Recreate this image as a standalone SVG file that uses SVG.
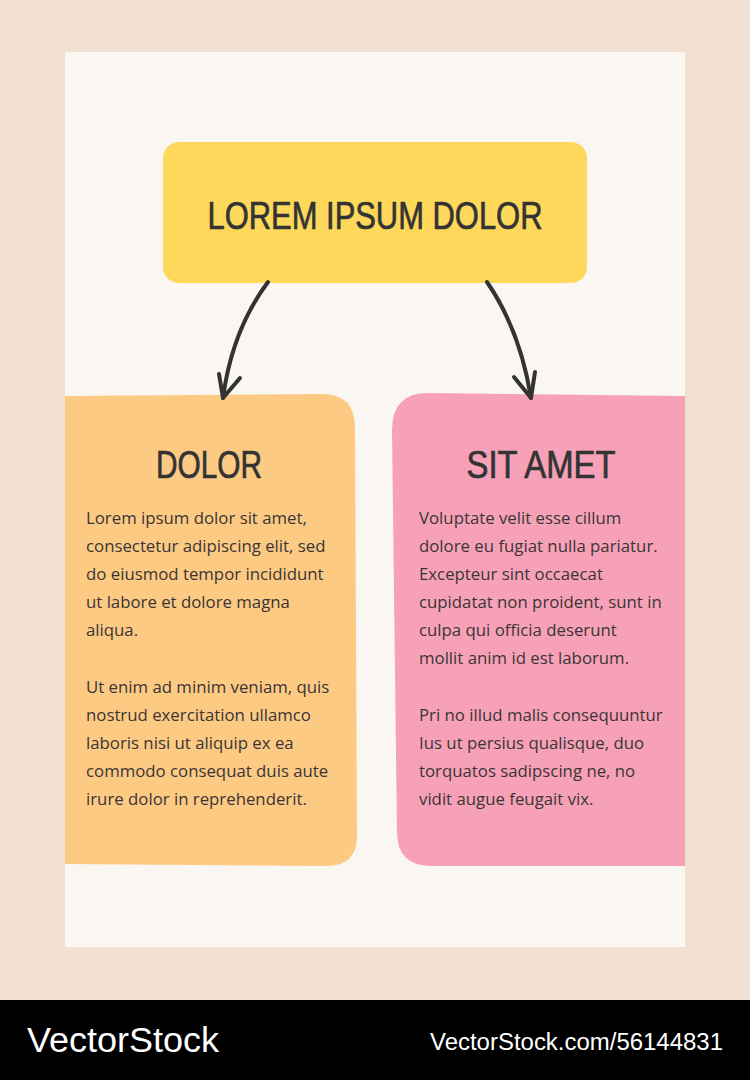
<svg xmlns="http://www.w3.org/2000/svg" width="750" height="1080" viewBox="0 0 750 1080">
<defs>
<style>
.title{font-family:"Liberation Sans Narrow","Liberation Sans",sans-serif;font-weight:normal;fill:#333333;stroke:#333333;stroke-width:0.7;text-anchor:middle}
.body{font-family:"Open Sans","Noto Sans",sans-serif;font-size:16.8px;fill:#3a3535}
.conn{fill:none;stroke:#333333;stroke-width:4;stroke-linecap:round;stroke-linejoin:round}
.foot{font-family:"Liberation Sans",Arial,sans-serif;fill:#ffffff}
</style>
</defs>
<rect x="0" y="0" width="750" height="1000" fill="#f2e1d3"/>
<rect x="65" y="52" width="620" height="895" fill="#faf6f1"/>

<g id="node-top">
<rect x="163" y="142" width="424" height="141" rx="16" fill="#fdd85a"/>
<text class="title" x="375" y="229" font-size="39" textLength="335" lengthAdjust="spacingAndGlyphs">LOREM IPSUM DOLOR</text>
</g>

<g id="node-dolor">
<path d="M65 396 L322 394 Q355 394 355 428 L357 836 Q357 865 328 866 L65 864 Z" fill="#fdca84"/>
<text class="title" x="209" y="478" font-size="39" textLength="106" lengthAdjust="spacingAndGlyphs">DOLOR</text>
<text class="body" x="86" y="524">Lorem ipsum dolor sit amet,</text>
<text class="body" x="86" y="552">consectetur adipiscing elit, sed</text>
<text class="body" x="86" y="580">do eiusmod tempor incididunt</text>
<text class="body" x="86" y="608">ut labore et dolore magna</text>
<text class="body" x="86" y="636">aliqua.</text>
<text class="body" x="86" y="693">Ut enim ad minim veniam, quis</text>
<text class="body" x="86" y="721">nostrud exercitation ullamco</text>
<text class="body" x="86" y="749">laboris nisi ut aliquip ex ea</text>
<text class="body" x="86" y="777">commodo consequat duis aute</text>
<text class="body" x="86" y="805">irure dolor in reprehenderit.</text>
</g>

<g id="node-sitamet">
<path d="M428 393 L685 396 L685 866 L432 866 Q397 866 397 832 L392 430 Q392 393 428 393 Z" fill="#f7a1b9"/>
<text class="title" x="541" y="478" font-size="39" textLength="149" lengthAdjust="spacingAndGlyphs">SIT AMET</text>
<text class="body" x="419" y="524">Voluptate velit esse cillum</text>
<text class="body" x="419" y="552">dolore eu fugiat nulla pariatur.</text>
<text class="body" x="419" y="580">Excepteur sint occaecat</text>
<text class="body" x="419" y="608">cupidatat non proident, sunt in</text>
<text class="body" x="419" y="636">culpa qui officia deserunt</text>
<text class="body" x="419" y="664">mollit anim id est laborum.</text>
<text class="body" x="419" y="721">Pri no illud malis consequuntur</text>
<text class="body" x="419" y="749">Ius ut persius qualisque, duo</text>
<text class="body" x="419" y="777">torquatos sadipscing ne, no</text>
<text class="body" x="419" y="805">vidit augue feugait vix.</text>
</g>

<g id="connectors">
<path class="conn" d="M268 282 Q232 330 223 398"/>
<path class="conn" d="M219 374 L223 398 L240 378"/>
<path class="conn" d="M487 282 Q520 330 531 398"/>
<path class="conn" d="M514 377 L531 398 L535 372"/>
</g>

<rect x="0" y="1000" width="750" height="80" fill="#000000"/>
<text class="foot" x="27" y="1052" font-size="35" textLength="192" lengthAdjust="spacingAndGlyphs">VectorStock</text>
<text class="foot" x="723" y="1050" font-size="23" text-anchor="end" textLength="293" lengthAdjust="spacingAndGlyphs">VectorStock.com/56144831</text>
</svg>
